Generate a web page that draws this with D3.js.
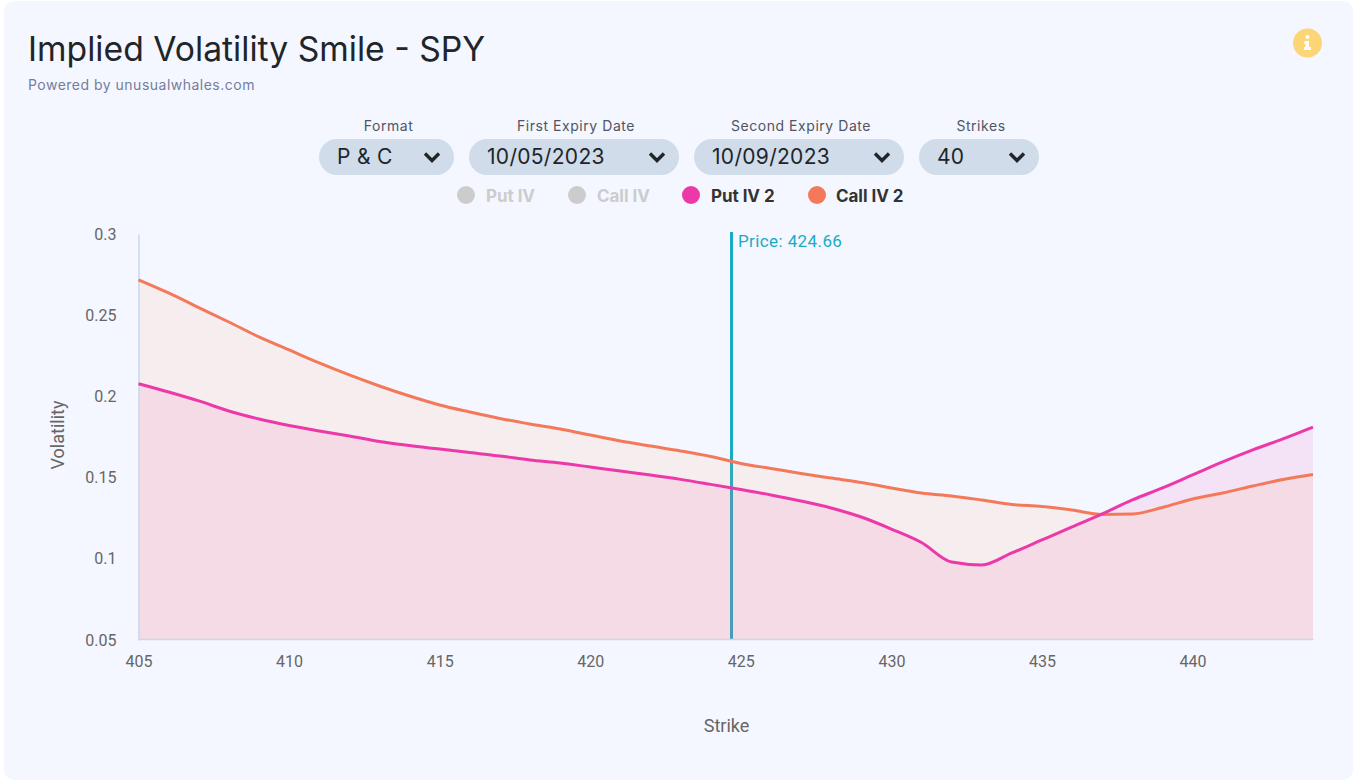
<!DOCTYPE html>
<html><head><meta charset="utf-8">
<script src="https://cdn.jsdelivr.net/npm/d3@7/dist/d3.min.js"></script>
<style>html,body{margin:0;padding:0;background:#fff;}svg{display:block;}</style>
</head><body><div id="c"></div>
<script>
const strikes=[405,406,407,408,409,410,411,412,413,414,415,416,417,418,419,420,421,422,423,424,425,426,427,428,429,430,431,432,433,434,435,436,437,438,439,440,441,442,443,444];
const putIV2=[.2072,.2021,.1966,.1904,.1855,.1815,.1781,.175,.1716,.1691,.167,.1648,.1627,.1602,.1584,.1559,.1534,.151,.1483,.1452,.142,.1387,.135,.1307,.1251,.1177,.1094,.0974,.0956,.103,.111,.119,.127,.1356,.143,.151,.159,.1664,.1732,.1805];
const callIV2=[.2712,.2631,.2541,.2452,.236,.228,.22,.2126,.2058,.1996,.1941,.1898,.1858,.1824,.1793,.1756,.1719,.1688,.1658,.1624,.1581,.155,.1519,.1491,.1464,.143,.1399,.1381,.1356,.1328,.1316,.1294,.1267,.127,.131,.1362,.1399,.1442,.1482,.1513];
const yTicks=[.05,.1,.15,.2,.25,.3];
const yTickLabels=["0.05","0.1","0.15","0.2","0.25","0.3"];
const xTicks=[405,410,415,420,425,430,435,440];
const price=424.66;
const filters=[["Format","P & C"],["First Expiry Date","10/05/2023"],["Second Expiry Date","10/09/2023"],["Strikes","40"]];
const legendItems=["Put IV","Call IV","Put IV 2","Call IV 2"];

const W=1366,H=784;
const svg=d3.select("#c").append("svg").attr("width",W).attr("height",H);
svg.append("rect").attr("x",4).attr("y",1).attr("width",1349).attr("height",779).attr("rx",10).attr("fill","#f4f7ff");
const RB="Roboto, sans-serif",IN="Inter, sans-serif";
svg.append("text").attr("x",28).attr("y",61).attr("font-family",IN).attr("font-size",33.7).attr("fill","#212529").text("Implied Volatility Smile - SPY");
svg.append("text").attr("x",28).attr("y",90).attr("font-family",IN).attr("font-size",14).attr("letter-spacing",.49).attr("fill","#757d9b").text("Powered by unusualwhales.com");
svg.append("circle").attr("cx",1307.5).attr("cy",43).attr("r",14.5).attr("fill","#fbd576");
const inf=svg.append("g").attr("fill","#fff");
inf.append("circle").attr("cx",1307.5).attr("cy",37).attr("r",2);
inf.append("path").attr("d","M1304.5 41h4.5v6h2v3h-7v-3h1.5v-3h-1.5z");

// filters
const boxes=[[319,135],[469,210],[694,210],[919,120]];
const g=svg.append("g");
filters.forEach((f,i)=>{
  const [x,w]=boxes[i];
  g.append("text").attr("x",x+w/2+2).attr("y",131).attr("text-anchor","middle").attr("font-family",IN).attr("font-size",14).attr("letter-spacing",.55).attr("fill","#51555f").text(f[0]);
  g.append("rect").attr("x",x).attr("y",139).attr("width",w).attr("height",36).attr("rx",18).attr("fill","#d0dcea");
  g.append("text").attr("x",x+18).attr("y",164).attr("font-family",IN).attr("font-size",21).attr("fill","#212529").attr("letter-spacing",.3).text(f[1]);
  const cx=x+w-22;
  g.append("path").attr("d",`M${cx-7} 153.5l7 7l7-7`).attr("fill","none").attr("stroke","#212529").attr("stroke-width",3.4);
});
// legend
const legX=[[466,486],[577,597],[691,711],[817,836]];
const legC=["#cccccc","#cccccc","#ec38a9","#f4795b"];
const legT=["#cccccc","#cccccc","#333333","#333333"];
legendItems.forEach((t,i)=>{
  svg.append("circle").attr("cx",legX[i][0]).attr("cy",195).attr("r",9).attr("fill",legC[i]);
  svg.append("text").attr("x",legX[i][1]).attr("y",202).attr("font-family",IN).attr("font-weight",700).attr("font-size",17).attr("letter-spacing",-.05).attr("fill",legT[i]).text(t);
});

// chart
const x=d3.scaleLinear().domain([405,444]).range([138.5,1313]);
const y=d3.scaleLinear().domain([.05,.3]).range([639,233]);
const area=v=>d3.area().x((d,i)=>x(strikes[i])).y0(y(.05)).y1(d=>y(d)).curve(d3.curveMonotoneX)(v);
const line=v=>d3.line().x((d,i)=>x(strikes[i])).y(d=>y(d)).curve(d3.curveMonotoneX)(v);

const px=Math.round(x(price))+.5;
svg.append("line").attr("x1",px).attr("x2",px).attr("y1",y(.3)-1).attr("y2",y(.05)).attr("stroke","#1aabc4").attr("stroke-width",3);
svg.append("path").attr("d",area(putIV2)).attr("fill","#f335ac").attr("fill-opacity",.1);
svg.append("path").attr("d",area(callIV2)).attr("fill","#fd9a58").attr("fill-opacity",.1);

const yAxis=d3.axisLeft(y).tickValues(yTicks).tickFormat((d,i)=>yTickLabels[i]).tickSize(0).tickPadding(22);
const xAxis=d3.axisBottom(x).tickValues(xTicks).tickFormat(d3.format("d")).tickSize(0).tickPadding(17);
const ya=svg.append("g").attr("transform","translate(138.5,1)").call(yAxis);
const xa=svg.append("g").attr("transform","translate(0,639)").call(xAxis);
[ya,xa].forEach(a=>{a.select(".domain").attr("stroke","#c9d8f0").attr("stroke-width",1.5);
  a.selectAll("text").attr("font-family",RB).attr("font-size",16).attr("fill","#666666");});

svg.append("path").attr("d",line(callIV2)).attr("fill","none").attr("stroke","#f4795b").attr("stroke-width",3);
svg.append("path").attr("d",line(putIV2)).attr("fill","none").attr("stroke","#ec38a9").attr("stroke-width",3);

svg.append("text").attr("x",738).attr("y",247).attr("font-family",RB).attr("font-size",17).attr("letter-spacing",.4).attr("fill","#1aabc4").text("Price: "+price);
svg.append("text").attr("transform","translate(64,435) rotate(-90)").attr("text-anchor","middle").attr("font-family",RB).attr("font-size",18).attr("fill","#666666").text("Volatility");
svg.append("text").attr("x",726.5).attr("y",732).attr("text-anchor","middle").attr("font-family",RB).attr("font-size",18).attr("fill","#666666").text("Strike");
</script></body></html>
